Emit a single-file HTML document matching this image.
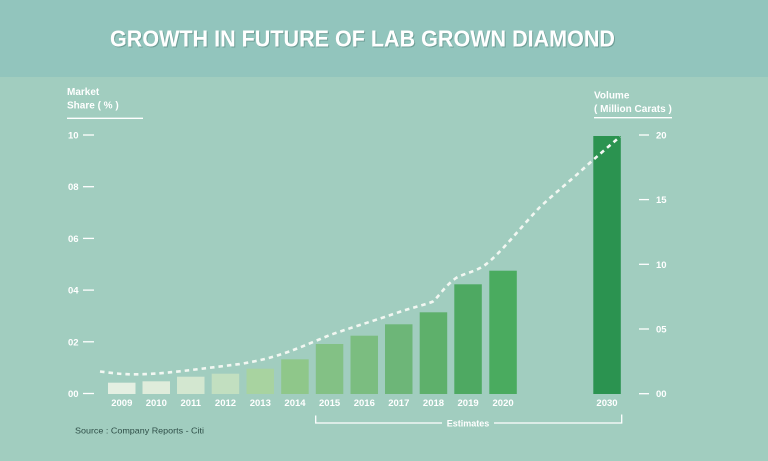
<!DOCTYPE html>
<html><head><meta charset="utf-8">
<style>
html,body{margin:0;padding:0;width:768px;height:461px;overflow:hidden;background:#a1cdbf;}
svg{display:block;}
text{font-family:"Liberation Sans",sans-serif;}
</style></head>
<body>
<svg width="768" height="461" viewBox="0 0 768 461" xmlns="http://www.w3.org/2000/svg">
<rect x="0" y="0" width="768" height="461" fill="#a1cdbf"/>
<rect x="0" y="0" width="768" height="77" fill="#92c5bd"/>
<text x="111" y="47.5" font-size="23" font-weight="bold" fill="#6f9e97" textLength="505" lengthAdjust="spacingAndGlyphs">GROWTH IN FUTURE OF LAB GROWN DIAMOND</text>
<text x="110" y="46.5" font-size="23" font-weight="bold" fill="#ffffff" textLength="505" lengthAdjust="spacingAndGlyphs">GROWTH IN FUTURE OF LAB GROWN DIAMOND</text>

<!-- left axis title -->
<g fill="#ffffff" font-weight="bold" font-size="10">
<text x="67" y="95">Market</text>
<text x="67" y="108.5">Share ( % )</text>
<text x="594" y="98.5">Volume</text>
<text x="594" y="112">( Million Carats )</text>
</g>
<line x1="67" y1="118.3" x2="143" y2="118.3" stroke="#ffffff" stroke-width="1.3"/>
<line x1="594" y1="117.7" x2="672" y2="117.7" stroke="#ffffff" stroke-width="1.3"/>

<!-- left ticks -->
<g fill="#ffffff" font-weight="bold" font-size="9.5">
<text x="68" y="138.5">10</text>
<text x="68" y="190.2">08</text>
<text x="68" y="241.9">06</text>
<text x="68" y="293.6">04</text>
<text x="68" y="345.3">02</text>
<text x="68" y="397">00</text>
</g>
<g stroke="#ffffff" stroke-width="1.3">
<line x1="83" y1="135" x2="94" y2="135"/>
<line x1="83" y1="186.7" x2="94" y2="186.7"/>
<line x1="83" y1="238.4" x2="94" y2="238.4"/>
<line x1="83" y1="290.1" x2="94" y2="290.1"/>
<line x1="83" y1="341.8" x2="94" y2="341.8"/>
<line x1="83" y1="393.5" x2="94" y2="393.5"/>
</g>

<!-- right ticks -->
<g stroke="#ffffff" stroke-width="1.3">
<line x1="639" y1="135" x2="649" y2="135"/>
<line x1="639" y1="199.6" x2="649" y2="199.6"/>
<line x1="639" y1="264.3" x2="649" y2="264.3"/>
<line x1="639" y1="329" x2="649" y2="329"/>
<line x1="639" y1="393.7" x2="649" y2="393.7"/>
</g>
<g fill="#ffffff" font-weight="bold" font-size="9.5">
<text x="656" y="138.5">20</text>
<text x="656" y="203">15</text>
<text x="656" y="267.8">10</text>
<text x="656" y="332.5">05</text>
<text x="656" y="397.2">00</text>
</g>

<!-- bars -->
<rect x="108" y="382.7" width="27.5" height="11.3" fill="#e4efe2"/>
<rect x="142.5" y="381.3" width="27.5" height="12.7" fill="#dfecdb"/>
<rect x="177" y="376.7" width="27.5" height="17.3" fill="#d3e7d0"/>
<rect x="211.7" y="373.7" width="27.5" height="20.3" fill="#c2dfc0"/>
<rect x="246.5" y="368.7" width="27.5" height="25.3" fill="#a8d3a0"/>
<rect x="281.2" y="359.3" width="27.5" height="34.7" fill="#8fc78a"/>
<rect x="315.8" y="344" width="27.5" height="50" fill="#83c185"/>
<rect x="350.5" y="335.7" width="27.5" height="58.3" fill="#7bbd80"/>
<rect x="385" y="324.3" width="27.5" height="69.7" fill="#6db678"/>
<rect x="419.7" y="312.3" width="27.5" height="81.7" fill="#5eb06b"/>
<rect x="454.3" y="284.3" width="27.5" height="109.7" fill="#4ea962"/>
<rect x="489.3" y="270.7" width="27.5" height="123.3" fill="#4aab5f"/>
<rect x="593.3" y="136" width="27.5" height="258" fill="#2b9350"/>

<!-- dashed line -->
<path d="M100,371.5 C115,373.5 125,374.5 137,374.3 C155,374 165,372.8 180,371.3 C200,369 220,366.5 240,364 C258,361 270,358 282,354 C300,348 315,341 330,335 C350,328 370,322 395,313.5 C410,308 425,305 433,301.5 C440,295 445,286 456,278 C465,273 475,272 485,265 C500,254 520,228 540,207 C555,193 570,181 582,170 C595,158 608,147 620,136.7" fill="none" stroke="#f2f7f2" stroke-width="2.6" stroke-dasharray="4.5 4"/>

<!-- year labels -->
<g fill="#ffffff" font-weight="bold" font-size="9.5" text-anchor="middle">
<text x="121.8" y="406">2009</text>
<text x="156.3" y="406">2010</text>
<text x="190.8" y="406">2011</text>
<text x="225.5" y="406">2012</text>
<text x="260.3" y="406">2013</text>
<text x="295" y="406">2014</text>
<text x="329.6" y="406">2015</text>
<text x="364.3" y="406">2016</text>
<text x="398.8" y="406">2017</text>
<text x="433.5" y="406">2018</text>
<text x="468.1" y="406">2019</text>
<text x="503.1" y="406">2020</text>
<text x="607" y="406">2030</text>
</g>

<!-- estimates bracket -->
<polyline points="315.7,415.5 315.7,423 442,423" fill="none" stroke="#ffffff" stroke-width="1.3"/>
<polyline points="494,423 621.7,423 621.7,414.5" fill="none" stroke="#ffffff" stroke-width="1.3"/>
<text x="468" y="426.5" font-size="9" font-weight="bold" fill="#ffffff" text-anchor="middle">Estimates</text>

<!-- source -->
<text x="75" y="433.5" font-size="8.5" fill="#2f4f48" textLength="129" lengthAdjust="spacingAndGlyphs">Source : Company Reports - Citi</text>
</svg>
</body></html>
